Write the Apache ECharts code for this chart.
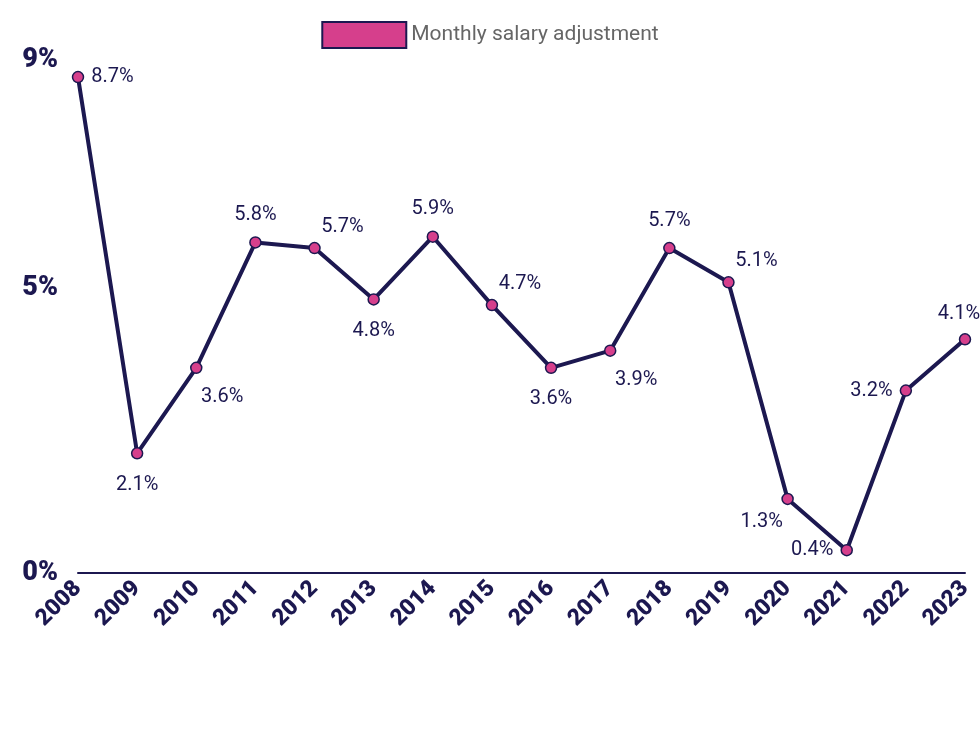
<!doctype html>
<html>
<head>
<meta charset="utf-8">
<script src="https://cdn.jsdelivr.net/npm/echarts@6/dist/echarts.min.js"></script>
<style>html,body{margin:0;padding:0;background:#fff}#main{width:980px;height:736px}</style>
</head>
<body>
<div id="main"></div>
<script>
var years = ['2008','2009','2010','2011','2012','2013','2014','2015','2016','2017','2018','2019','2020','2021','2022','2023'];
var salaryAdj = [8.7, 2.1, 3.6, 5.8, 5.7, 4.8, 5.9, 4.7, 3.6, 3.9, 5.7, 5.1, 1.3, 0.4, 3.2, 4.1];
// where each value label sits relative to its point
var labelPos = ['right','bottom','bottomRight','top','topRight','bottom','top','topRight','bottom','bottomRight','top','topRight','bottomLeft','left','left','topLeft'];

var navy = '#1c1850';
var offsets = {
    right: ['right', [2, 0]],
    bottom: ['bottom', [0, 10]],
    top: ['top', [0, -6]],
    left: ['left', [-2, 0]],
    bottomRight: ['bottom', [26, 8]],
    topRight: ['top', [28, 0]],
    topLeft: ['top', [-6, -4]],
    bottomLeft: ['bottom', [-26, 2]]
};
var points = salaryAdj.map(function (v, i) {
    var o = offsets[labelPos[i]];
    return { value: v, label: { position: o[0], offset: o[1] } };
});

var chart = echarts.init(document.getElementById('main'));
chart.setOption({
    animation: false,
    legend: {
        top: 16, left: 'center',
        itemWidth: 84, itemHeight: 26,
        icon: 'rect',
        itemStyle: { color: '#d63f8c', borderColor: navy, borderWidth: 2 },
        textStyle: { color: '#666', fontSize: 21, fontFamily: 'Roboto' },
        data: ['Monthly salary adjustment']
    },
    grid: { left: 78, right: 15, top: 60, bottom: 163 },
    xAxis: {
        type: 'category', data: years, boundaryGap: false,
        axisLine: { lineStyle: { color: navy, width: 2 } },
        axisTick: { show: false },
        axisLabel: { rotate: 45, color: navy, fontSize: 23, fontWeight: 900, fontFamily: 'Roboto', margin: 12 }
    },
    yAxis: {
        type: 'value', min: 0, max: 9, interval: 1,
        splitLine: { show: false },
        axisLabel: {
            color: navy, fontSize: 27, fontWeight: 900, fontFamily: 'Roboto', margin: 20,
            formatter: function (v) { return (v === 0 || v === 5 || v === 9) ? v + '%' : ''; }
        }
    },
    series: [{
        name: 'Monthly salary adjustment',
        type: 'line',
        data: points,
        symbol: 'circle', symbolSize: 11,
        lineStyle: { color: navy, width: 4 },
        itemStyle: { color: '#d63f8c', borderColor: navy, borderWidth: 1.5 },
        label: {
            show: true, color: navy, fontSize: 20, fontFamily: 'Roboto',
            formatter: function (p) { return p.value.toFixed(1) + '%'; }
        }
    }]
});
</script>
</body>
</html>
